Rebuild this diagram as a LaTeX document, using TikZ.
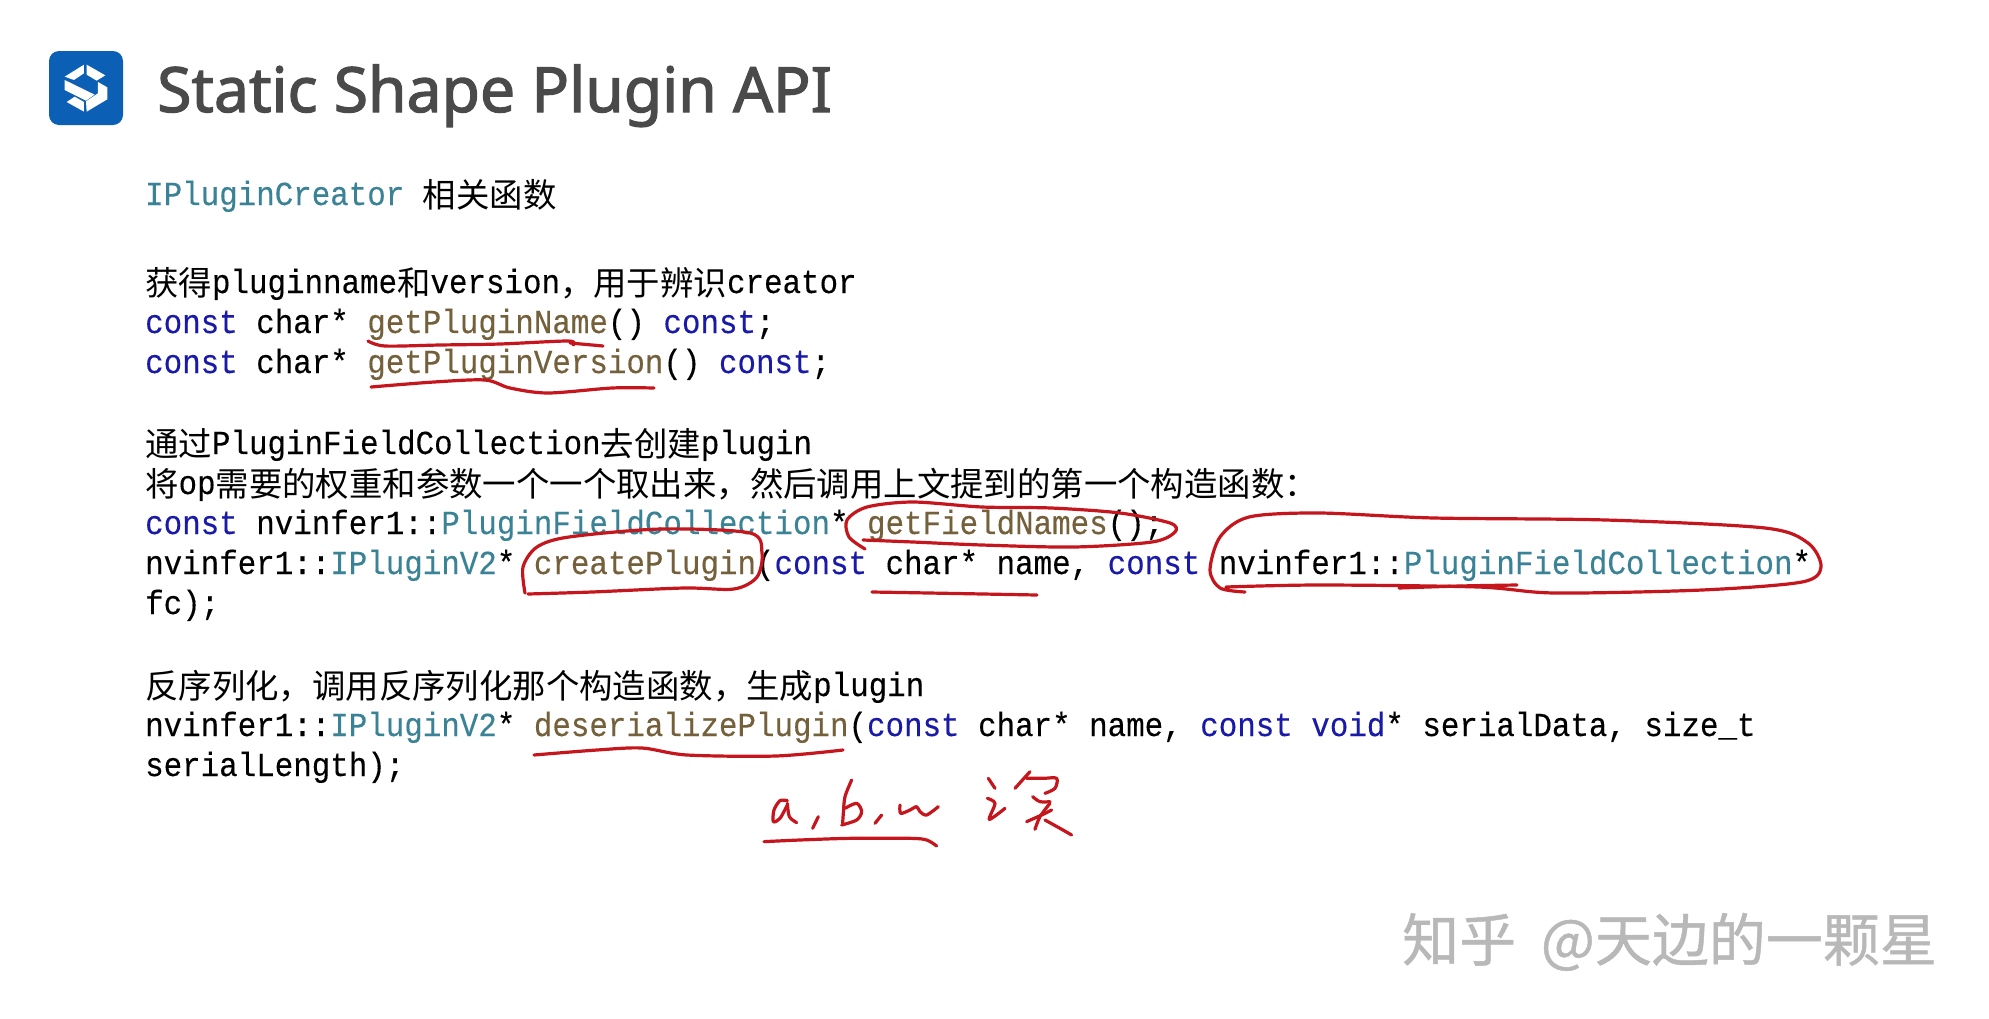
\documentclass[tikz,border=0pt]{standalone}
\usepackage{fontspec}
\usepackage{tikz}
\setmainfont{Noto Sans}
\newfontfamily\codefont[FakeStretch=0.918, FakeBold=0.25]{Liberation Mono}
\newfontfamily\cjkfont{Noto Sans CJK SC}
\newfontfamily\titlefont[FakeBold=2]{Noto Sans}
\newfontfamily\markfont[FakeBold=0.8]{Noto Sans CJK SC}
\definecolor{mkey}{HTML}{1A1AA8}
\definecolor{mtype}{HTML}{3A8296}
\definecolor{mfunc}{HTML}{74603A}
\definecolor{mred}{HTML}{C4161C}
\definecolor{mlogo}{HTML}{0B5FB5}
\definecolor{mtitle}{HTML}{4A4A4A}
\definecolor{mmark}{HTML}{B8B8B8}
\newcommand{\zh}[1]{\raisebox{-2pt}{\cjkfont\fontsize{33.4}{40}\selectfont #1}}
\newcommand{\kw}[1]{\textcolor{mkey}{#1}}
\newcommand{\ty}[1]{\textcolor{mtype}{#1}}
\newcommand{\fn}[1]{\textcolor{mfunc}{#1}}
\tikzset{codeline/.style = {anchor=base west, inner sep=0, text=black, font=\codefont\fontsize{33.6}{40}\selectfont}}
\tikzset{inkline/.style = {draw=mred, line width=3.2, line cap=round, line join=round}}
\tikzset{logopart/.style = {fill=white}}

\begin{document}
\begin{tikzpicture}[x=1pt, y=-1pt]
      \useasboundingbox (0, 0) rectangle (1989, 1018);
      \fill [white] (0, 0) rectangle (1989, 1018);
      % logo
      \fill [mlogo, rounded corners=10] (49, 51) rectangle (123, 125);
      \begin{scope}[shift={(30, 30)}, scale=0.3333]
        \fill [logopart] (162, 104) -- (162, 130) -- (132, 150) -- (104, 140) -- cycle;
        \fill [logopart] (170, 104) -- (226, 136) -- (200, 152) -- (170, 134) -- cycle;
        \fill [logopart] (104, 150) -- (194, 194) -- (168, 212) -- (104, 180) -- cycle;
        \fill [logopart] (168, 214) -- (204, 190) -- (204, 156) -- (232, 172) -- (232, 208) -- (170, 245) -- cycle;
        \fill [logopart] (110, 216) -- (134, 200) -- (162, 216) -- (162, 245) -- cycle;
      \end{scope}
      \node [anchor=base west, inner sep=0, text=mtitle, font=\titlefont\fontsize{62.4}{70}\selectfont] (title) at (157, 112) {Static Shape Plugin API};
      % code lines
      \node [codeline] (head) at (145, 205) {\ty{IPluginCreator} \zh{相关函数}};
      \node [codeline] (nameintro) at (145, 293) {\zh{获得}pluginname\zh{和}version\zh{，用于辨识}creator};
      \node [codeline] (nameline) at (145, 333) {\kw{const} char* \fn{getPluginName}() \kw{const};};
      \node [codeline] (versionline) at (145, 373) {\kw{const} char* \fn{getPluginVersion}() \kw{const};};
      \node [codeline] (createintro) at (145, 454) {\zh{通过}PluginFieldCollection\zh{去创建}plugin};
      \node [codeline] (opintro) at (145, 494) {\zh{将}op\zh{需要的权重和参数一个一个取出来，然后调用上文提到的第一个构造函数：}};
      \node [codeline] (fieldline) at (145, 534) {\kw{const} nvinfer1::\ty{PluginFieldCollection}* \fn{getFieldNames}();};
      \node [codeline] (createline) at (145, 574) {nvinfer1::\ty{IPluginV2}* \fn{createPlugin}(\kw{const} char* name, \kw{const} nvinfer1::\ty{PluginFieldCollection}*};
      \node [codeline] (createtail) at (145, 614) {fc);};
      \node [codeline] (serialintro) at (145, 696) {\zh{反序列化，调用反序列化那个构造函数，生成}plugin};
      \node [codeline] (serialline) at (145, 736) {nvinfer1::\ty{IPluginV2}* \fn{deserializePlugin}(\kw{const} char* name, \kw{const} \kw{void}* serialData, size\_t};
      \node [codeline] (serialtail) at (145, 776) {serialLength);};
      \node [anchor=base west, inner sep=0, text=mmark, font=\markfont\fontsize{57}{70}\selectfont] (mark) at (1402, 961) {知乎\hspace{12pt} @天边的一颗星};
      % red pen marks
      \draw [inkline] plot [smooth] coordinates {(368, 341) (385, 346) (440, 345) (500, 344) (568, 341) (573, 345)};
      \draw [inkline] (570, 343) -- (603, 346);
      \draw [inkline] plot [smooth] coordinates {(371, 387) (434, 382) (485, 380) (510, 388) (548, 393) (612, 388) (654, 388)};
      \draw [inkline] plot [smooth] coordinates {(865, 549) (849, 537) (847, 520) (867, 507) (913, 502) (982, 507) (1051, 508) (1120, 513) (1170, 523) (1175, 532) (1152, 542) (1074, 547) (982, 545) (913, 542) (863, 540)};
      \draw [inkline] plot [smooth] coordinates {(525, 593) (523, 567) (537, 547) (569, 537) (661, 529) (750, 533) (762, 553) (757, 577) (734, 589) (684, 588) (592, 592) (528, 594)};
      \draw [inkline] plot [smooth] coordinates {(872, 592) (929, 593) (1037, 595)};
      \draw [inkline] plot [smooth] coordinates {(1245, 592) (1220, 588) (1210, 570) (1220, 537) (1249, 517) (1319, 513) (1434, 518) (1606, 520) (1765, 528) (1808, 543) (1821, 567) (1802, 582) (1702, 590) (1555, 593) (1478, 587) (1319, 585) (1226, 587)};
      \draw [inkline] plot [smooth] coordinates {(1399, 588) (1460, 586) (1517, 585)};
      \draw [inkline] plot [smooth] coordinates {(534, 755) (597, 750) (642, 748) (687, 755) (776, 756) (843, 750)};
      % handwriting
      \begin{scope}[shift={(750, 760)}, scale=0.3333]
        \draw [inkline] plot [smooth] coordinates {(112, 122) (90, 122) (72, 150) (70, 185) (90, 175) (112, 135)};
        \draw [inkline] plot [smooth] coordinates {(112, 130) (118, 170) (140, 188)};
        \draw [inkline] (205, 170) -- (188, 205);
        \draw [inkline] plot [smooth] coordinates {(305, 60) (285, 110) (280, 160) (278, 190)};
        \draw [inkline] plot [smooth] coordinates {(285, 145) (320, 130) (335, 155) (320, 180) (275, 195)};
        \draw [inkline] (395, 165) -- (375, 190);
        \draw [inkline] plot [smooth] coordinates {(450, 135) (452, 160) (480, 150) (500, 140) (510, 155) (530, 165) (565, 140)};
        \draw [inkline] plot [smooth] coordinates {(42, 245) (150, 240) (300, 235) (480, 235) (530, 240) (560, 258)};
        \draw [inkline] (715, 55) -- (735, 85);
        \draw [inkline] plot [smooth] coordinates {(712, 115) (735, 130) (718, 178) (765, 145)};
        \draw [inkline] plot [smooth] coordinates {(795, 85) (840, 35)};
        \draw [inkline] plot [smooth] coordinates {(830, 55) (880, 55) (920, 55) (915, 85) (885, 100)};
        \draw [inkline] plot [smooth] coordinates {(848, 110) (870, 125) (900, 125)};
        \draw [inkline] plot [smooth] coordinates {(830, 185) (875, 165) (905, 150)};
        \draw [inkline] plot [smooth] coordinates {(900, 130) (870, 170) (855, 208)};
        \draw [inkline] plot [smooth] coordinates {(885, 180) (930, 205) (965, 225)};
      \end{scope}
    \end{tikzpicture}
\end{document}
